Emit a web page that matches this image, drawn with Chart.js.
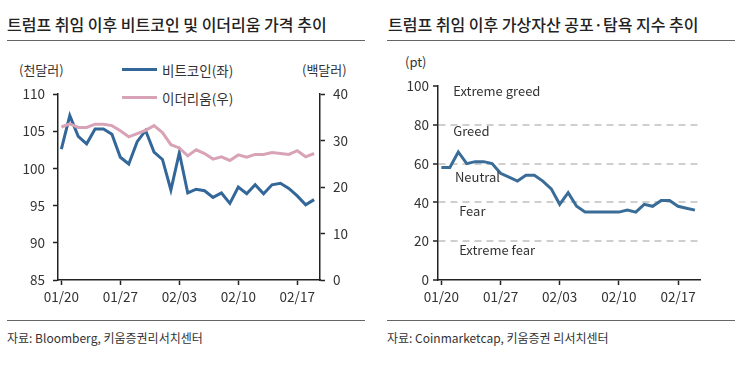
<!DOCTYPE html>
<html>
<head>
<meta charset="utf-8">
<script src="https://cdn.jsdelivr.net/npm/chart.js@4.4.1/dist/chart.umd.min.js"></script>
<style>
  body { margin: 0; background: #fff; width: 745px; height: 368px; overflow: hidden;
         font-family: "Noto Sans CJK KR", "Noto Sans", sans-serif; color: #222; }
  .abs { position: absolute; white-space: nowrap; }
  .title { font-size: 16px; font-weight: 500; color: #222; }
  .rule { position: absolute; height: 0; border-top: 1.5px solid #666; }
  .src { font-size: 12px; color: #333; }
  .unit { font-size: 13px; color: #333; }
  .leg { font-size: 13.5px; color: #333; }
  .swatch { position: absolute; height: 3px; width: 35px; }
  canvas { position: absolute; }
</style>
</head>
<body>
<div class="abs title" style="left:7px;top:12px;">트럼프 취임 이후 비트코인 및 이더리움 가격 추이</div>
<div class="rule" style="left:7px;top:40px;width:358px;"></div>
<div class="abs unit" style="left:19px;top:60px;">(천달러)</div>
<div class="abs unit" style="left:302px;top:60px;">(백달러)</div>
<div class="swatch" style="left:122px;top:68px;background:#33679a;"></div>
<div class="abs leg" style="left:162px;top:60px;">비트코인(좌)</div>
<div class="swatch" style="left:122px;top:96px;background:#d9a3b7;"></div>
<div class="abs leg" style="left:162px;top:88px;">이더리움(우)</div>
<canvas id="priceChart" width="370" height="270" style="left:0;top:45px;"></canvas>
<div class="rule" style="left:7px;top:320px;width:358px;"></div>
<div class="abs src" style="left:7px;top:329px;">자료: Bloomberg, 키움증권리서치센터</div>

<div class="abs title" style="left:388px;top:12px;">트럼프 취임 이후 가상자산 공포·탐욕 지수 추이</div>
<div class="rule" style="left:387px;top:40px;width:348px;"></div>
<div class="abs unit" style="left:405px;top:52px;">(pt)</div>
<canvas id="fearGreedChart" width="370" height="270" style="left:375px;top:45px;"></canvas>
<div class="rule" style="left:387px;top:320px;width:348px;"></div>
<div class="abs src" style="left:387px;top:329px;">자료: Coinmarketcap, 키움증권 리서치센터</div>

<script>
// daily, 01/20 ~ 02/19
const dates = ['01/20','01/21','01/22','01/23','01/24','01/25','01/26','01/27','01/28','01/29',
  '01/30','01/31','02/01','02/02','02/03','02/04','02/05','02/06','02/07','02/08',
  '02/09','02/10','02/11','02/12','02/13','02/14','02/15','02/16','02/17','02/18','02/19'];

// 비트코인 (천달러, 좌)
const btc = [102.6, 107.1, 104.3, 103.3, 105.3, 105.3, 104.6, 101.5, 100.6, 103.6,
  105.1, 102.2, 101.2, 97.1, 102.1, 96.7, 97.2, 97.0, 96.1, 96.7,
  95.3, 97.5, 96.6, 97.8, 96.6, 97.8, 98.0, 97.3, 96.3, 95.1, 95.8];

// 이더리움 (백달러, 우)
const eth = [32.9, 33.6, 32.8, 32.8, 33.5, 33.5, 33.2, 32.1, 30.8, 31.5,
  32.2, 33.2, 31.7, 29.1, 28.4, 26.7, 28.0, 27.2, 26.0, 26.5,
  25.7, 26.9, 26.4, 27.0, 27.0, 27.4, 27.2, 27.0, 27.8, 26.5, 27.2];

// 공포·탐욕 지수 (pt)
const fearGreed = [58, 58, 66, 60, 61, 61, 60, 55, 53, 51,
  54, 54, 51, 47, 39, 45, 38, 35, 35, 35,
  35, 35, 36, 35, 39, 38, 41, 41, 38, 37, 36];

const xTickIdx = [0, 7, 14, 21, 28];
const btcTicks = [85, 90, 95, 100, 105, 110];
const ethTicks = [0, 10, 20, 30, 40];
const fgTicks = [0, 20, 40, 60, 80, 100];

const zoneLabels = ['Extreme greed', 'Greed', 'Neutral', 'Fear', 'Extreme fear'];
const zoneLevels = [97.5, 77, 53, 35.5, 15.5];
const zoneAt = [1.4, 1.4, 1.6, 2.1, 2.1];

const FONT = { family: '"Noto Sans CJK KR", "Noto Sans", sans-serif', size: 13.5 };
const INK = '#222';

function toXY(vals) {
  return vals.map((v, i) => ({ x: i, y: v }));
}

function fixWidth(w) {
  return scale => { scale.width = w; };
}

function setTicks(list) {
  return scale => { scale.ticks = list.map(v => ({ value: v })); };
}

function xAxis(max) {
  return {
    type: 'linear',
    min: -0.4,
    max: max,
    afterBuildTicks: setTicks(xTickIdx),
    afterFit: scale => { scale.height = 35; },
    grid: { drawOnChartArea: false, tickLength: 5, tickColor: INK, tickWidth: 1.5 },
    border: { color: INK, width: 1.5 },
    ticks: {
      font: FONT, color: '#333', padding: 4, maxRotation: 0,
      callback: v => dates[v]
    }
  };
}

function yAxis(pos, min, max, list, w, pad) {
  return {
    type: 'linear',
    position: pos,
    min: min,
    max: max,
    afterBuildTicks: setTicks(list),
    afterFit: fixWidth(w),
    grid: { drawOnChartArea: false, tickLength: 5, tickColor: INK, tickWidth: 1.5 },
    border: { color: INK, width: 1.5 },
    ticks: { font: FONT, color: '#333', padding: pad }
  };
}

new Chart(document.getElementById('priceChart').getContext('2d'), {
  type: 'line',
  data: {
    datasets: [
      { label: '이더리움(우)', data: toXY(eth), yAxisID: 'y1', borderColor: '#d9a3b7',
        borderWidth: 3, pointRadius: 0, tension: 0 },
      { label: '비트코인(좌)', data: toXY(btc), yAxisID: 'y', borderColor: '#33679a',
        borderWidth: 3, pointRadius: 0, tension: 0 }
    ]
  },
  options: {
    responsive: false,
    animation: false,
    devicePixelRatio: 1,
    layout: { padding: { top: 49, left: 0, right: 0, bottom: 0 } },
    plugins: { legend: { display: false }, tooltip: { enabled: false } },
    scales: {
      x: xAxis(30.7),
      y: yAxis('left', 85, 110, btcTicks, 58, 8),
      y1: yAxis('right', 0, 40, ethTicks, 50, 8)
    }
  }
});

// zone names written in the index chart
const zoneText = {
  id: 'zoneText',
  afterDatasetsDraw(chart) {
    const { ctx, scales } = chart;
    ctx.save();
    ctx.font = '13px "Noto Sans CJK KR", "Noto Sans", sans-serif';
    ctx.fillStyle = '#333';
    ctx.textBaseline = 'middle';
    zoneLabels.forEach((t, i) => {
      ctx.fillText(t, scales.x.getPixelForValue(zoneAt[i]), scales.y.getPixelForValue(zoneLevels[i]));
    });
    ctx.restore();
  }
};

const fgY = yAxis('left', 0, 100, fgTicks, 63, 4);
fgY.grid = {
  drawOnChartArea: true, tickLength: 5, tickColor: INK, tickWidth: 1.5, lineWidth: 2,
  color: c => (c.tick && (c.tick.value === 0 || c.tick.value === 100)) ? 'rgba(0,0,0,0)' : '#cfcfcf'
};
fgY.border = { color: INK, width: 1.5, dash: [7, 5] };

new Chart(document.getElementById('fearGreedChart').getContext('2d'), {
  type: 'line',
  data: {
    datasets: [
      { label: '공포·탐욕 지수', data: toXY(fearGreed), borderColor: '#3a6c98',
        borderWidth: 3, pointRadius: 0, tension: 0 }
    ]
  },
  options: {
    responsive: false,
    animation: false,
    devicePixelRatio: 1,
    layout: { padding: { top: 41, left: 0, right: 45, bottom: 0 } },
    plugins: { legend: { display: false }, tooltip: { enabled: false } },
    scales: {
      x: xAxis(30.6),
      y: fgY
    }
  },
  plugins: [zoneText]
});
</script>
</body>
</html>
